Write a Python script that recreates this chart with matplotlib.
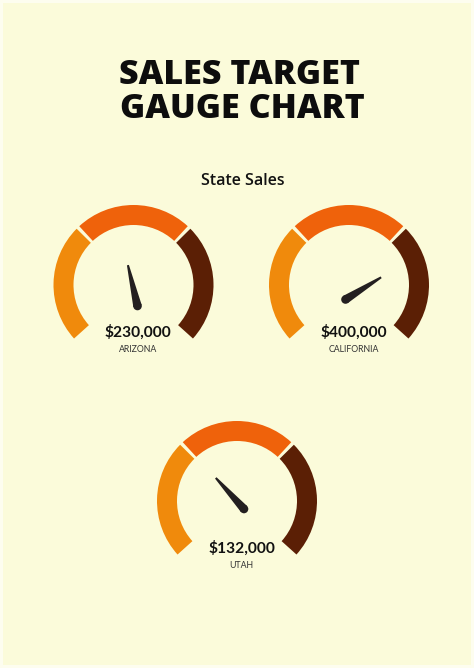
import numpy as np
import matplotlib
matplotlib.use("Agg")
import matplotlib.pyplot as plt
from matplotlib.patches import Wedge, Polygon, Circle, Rectangle

plt.rcParams['font.family'] = ['Lato', 'DejaVu Sans']

# data
states = ["ARIZONA", "CALIFORNIA", "UTAH"]
sales = [230000, 400000, 132000]
needle_frac = [0.45, 0.72, 0.34]          # needle position as share of the dial
band_edges = [0.0, 1 / 3, 2 / 3, 1.0]
band_colors = ["#F08A0C", "#EF620B", "#5B1F05"]

title_lines = ["SALES TARGET", "GAUGE CHART"]
subtitle = "State Sales"

W, H = 474, 668
BG = "#FBFBDA"

# layout, image pixels (y measured from top)
centers = [(133.5, 285), (349, 285), (237, 501)]
pivot_off = [(4, 21), (-3.5, 14.5), (7, 8)]
R_OUT, WIDTH = 80, 20
START, SPAN = 222, 264
GAP = 1.3

fig = plt.figure(figsize=(W / 100, H / 100), dpi=100)
fig.patch.set_facecolor("#FDFDEF")
ax = fig.add_axes([0, 0, 1, 1])
ax.set_xlim(0, W)
ax.set_ylim(0, H)
ax.axis("off")
ax.add_patch(Rectangle((3, 3), W - 6, H - 6, facecolor=BG, edgecolor="none"))


def ang(frac):
    return START - SPAN * frac


for i, st in enumerate(states):
    cx, cy = centers[i][0], H - centers[i][1]
    for k in range(3):
        a1 = ang(band_edges[k + 1]) + (GAP if k < 2 else 0)
        a0 = ang(band_edges[k]) - (GAP if k > 0 else 0)
        ax.add_patch(Wedge((cx, cy), R_OUT, a1, a0, width=WIDTH,
                           facecolor=band_colors[k], edgecolor="none"))

    # needle
    px, py = cx + pivot_off[i][0], cy - pivot_off[i][1]
    t = np.radians(ang(needle_frac[i]))
    u = np.array([np.cos(t), np.sin(t)])
    n = np.array([-u[1], u[0]])
    p = np.array([px, py])
    tip = p + u * 42
    pts = [p + n * 4.3, tip + n * 1.0, tip - n * 1.0, p - n * 4.3]
    ax.add_patch(Polygon(pts, closed=True, facecolor="#231F20", edgecolor="none"))
    ax.add_patch(Circle(p, 4.3, facecolor="#231F20", edgecolor="none"))

    ax.text(cx + 4.5, cy - 47, f"${sales[i]:,}", ha="center", va="center",
            fontsize=11.2, fontweight="bold", color="#111111")
    ax.text(cx + 4.5, cy - 65, st, ha="center", va="center",
            fontsize=6.3, color="#333333")

ax.text(240, H - 75, title_lines[0], ha="center", va="center",
        fontsize=24.5, fontweight=800, color="#0d0d0d", family="Open Sans")
ax.text(242, H - 108.5, title_lines[1], ha="center", va="center",
        fontsize=24.5, fontweight=800, color="#0d0d0d", family="Open Sans")
ax.text(243, H - 181, subtitle, ha="center", va="center",
        fontsize=11.5, fontweight="semibold", color="#111111", family="Open Sans")

fig.savefig("out.png", dpi=100, facecolor=fig.get_facecolor())
